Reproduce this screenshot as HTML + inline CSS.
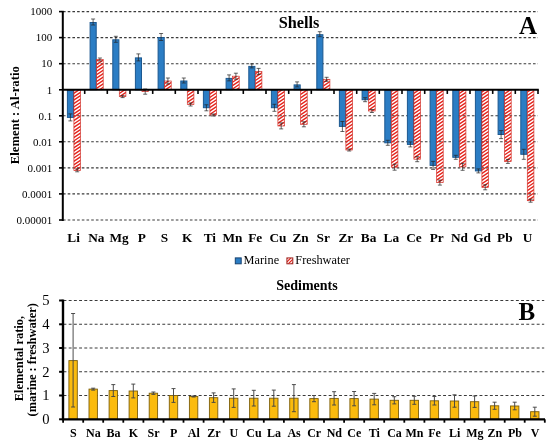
<!DOCTYPE html>
<html lang="en"><head><meta charset="utf-8"><title>Shells and Sediments element ratios</title>
<style>html,body{margin:0;padding:0;background:#fff}svg{display:block}text{font-family:"Liberation Serif","DejaVu Serif",serif;fill:#000}.b{font-weight:bold}</style></head><body>
<svg width="550" height="442" viewBox="0 0 550 442">
<rect width="550" height="442" fill="#fff"/>
<line x1="63.0" y1="11.6" x2="538.0" y2="11.6" stroke="#3a3a3a" stroke-width="1.1" stroke-dasharray="2.6 2.1"/>
<line x1="63.0" y1="37.6" x2="538.0" y2="37.6" stroke="#3a3a3a" stroke-width="1.1" stroke-dasharray="2.6 2.1"/>
<line x1="63.0" y1="63.7" x2="538.0" y2="63.7" stroke="#3a3a3a" stroke-width="1.1" stroke-dasharray="2.6 2.1"/>
<line x1="63.0" y1="115.8" x2="538.0" y2="115.8" stroke="#3a3a3a" stroke-width="1.1" stroke-dasharray="2.6 2.1"/>
<line x1="63.0" y1="141.8" x2="538.0" y2="141.8" stroke="#3a3a3a" stroke-width="1.1" stroke-dasharray="2.6 2.1"/>
<line x1="63.0" y1="167.9" x2="538.0" y2="167.9" stroke="#3a3a3a" stroke-width="1.1" stroke-dasharray="2.6 2.1"/>
<line x1="63.0" y1="193.9" x2="538.0" y2="193.9" stroke="#3a3a3a" stroke-width="1.1" stroke-dasharray="2.6 2.1"/>
<line x1="63.0" y1="220.0" x2="538.0" y2="220.0" stroke="#3a3a3a" stroke-width="1.1" stroke-dasharray="2.6 2.1"/>
<rect x="67.4" y="90.2" width="6.1" height="27.2" fill="#2b7dc4" stroke="#1c5890" stroke-width="1"/>
<rect x="90.1" y="22.5" width="6.1" height="67.2" fill="#2b7dc4" stroke="#1c5890" stroke-width="1"/>
<rect x="112.8" y="39.8" width="6.1" height="50.0" fill="#2b7dc4" stroke="#1c5890" stroke-width="1"/>
<rect x="135.4" y="57.9" width="6.1" height="31.9" fill="#2b7dc4" stroke="#1c5890" stroke-width="1"/>
<rect x="158.1" y="37.5" width="6.1" height="52.2" fill="#2b7dc4" stroke="#1c5890" stroke-width="1"/>
<rect x="180.8" y="81.0" width="6.1" height="8.8" fill="#2b7dc4" stroke="#1c5890" stroke-width="1"/>
<rect x="203.4" y="90.2" width="6.1" height="17.5" fill="#2b7dc4" stroke="#1c5890" stroke-width="1"/>
<rect x="226.1" y="78.4" width="6.1" height="11.3" fill="#2b7dc4" stroke="#1c5890" stroke-width="1"/>
<rect x="248.8" y="66.4" width="6.1" height="23.3" fill="#2b7dc4" stroke="#1c5890" stroke-width="1"/>
<rect x="271.4" y="90.2" width="6.1" height="17.5" fill="#2b7dc4" stroke="#1c5890" stroke-width="1"/>
<rect x="294.1" y="84.9" width="6.1" height="4.8" fill="#2b7dc4" stroke="#1c5890" stroke-width="1"/>
<rect x="316.8" y="34.7" width="6.1" height="55.0" fill="#2b7dc4" stroke="#1c5890" stroke-width="1"/>
<rect x="339.4" y="90.2" width="6.1" height="36.2" fill="#2b7dc4" stroke="#1c5890" stroke-width="1"/>
<rect x="362.1" y="90.2" width="6.1" height="9.5" fill="#2b7dc4" stroke="#1c5890" stroke-width="1"/>
<rect x="384.8" y="90.2" width="6.1" height="52.6" fill="#2b7dc4" stroke="#1c5890" stroke-width="1"/>
<rect x="407.4" y="90.2" width="6.1" height="54.2" fill="#2b7dc4" stroke="#1c5890" stroke-width="1"/>
<rect x="430.1" y="90.2" width="6.1" height="75.2" fill="#2b7dc4" stroke="#1c5890" stroke-width="1"/>
<rect x="452.8" y="90.2" width="6.1" height="67.1" fill="#2b7dc4" stroke="#1c5890" stroke-width="1"/>
<rect x="475.4" y="90.2" width="6.1" height="80.7" fill="#2b7dc4" stroke="#1c5890" stroke-width="1"/>
<rect x="498.1" y="90.2" width="6.1" height="44.3" fill="#2b7dc4" stroke="#1c5890" stroke-width="1"/>
<rect x="520.8" y="90.2" width="6.1" height="64.1" fill="#2b7dc4" stroke="#1c5890" stroke-width="1"/>
<clipPath id="rc"><rect x="73.9" y="89.8" width="6.6" height="80.6"/><rect x="96.6" y="59.5" width="6.6" height="30.2"/><rect x="119.3" y="89.8" width="6.6" height="6.8"/><rect x="141.9" y="89.8" width="6.6" height="1.8"/><rect x="164.6" y="81.0" width="6.6" height="8.8"/><rect x="187.3" y="89.8" width="6.6" height="14.8"/><rect x="209.9" y="89.8" width="6.6" height="25.2"/><rect x="232.6" y="76.2" width="6.6" height="13.5"/><rect x="255.3" y="71.4" width="6.6" height="18.3"/><rect x="277.9" y="89.8" width="6.6" height="36.2"/><rect x="300.6" y="89.8" width="6.6" height="34.5"/><rect x="323.3" y="79.3" width="6.6" height="10.5"/><rect x="345.9" y="89.8" width="6.6" height="60.2"/><rect x="368.6" y="89.8" width="6.6" height="21.2"/><rect x="391.3" y="89.8" width="6.6" height="77.4"/><rect x="413.9" y="89.8" width="6.6" height="69.4"/><rect x="436.6" y="89.8" width="6.6" height="92.8"/><rect x="459.3" y="89.8" width="6.6" height="77.1"/><rect x="481.9" y="89.8" width="6.6" height="97.6"/><rect x="504.6" y="89.8" width="6.6" height="71.7"/><rect x="527.3" y="89.8" width="6.6" height="110.9"/></clipPath>
<path clip-path="url(#rc)" d="M60.0 10.8L64.2 8.0M60.0 14.2L69.3 8.0M60.0 17.6L74.3 8.0M60.0 21.0L79.4 8.0M60.0 24.4L84.5 8.0M60.0 27.8L89.6 8.0M60.0 31.2L94.6 8.0M60.0 34.6L99.7 8.0M60.0 38.0L104.8 8.0M60.0 41.4L109.9 8.0M60.0 44.8L114.9 8.0M60.0 48.2L120.0 8.0M60.0 51.6L125.1 8.0M60.0 55.0L130.1 8.0M60.0 58.4L135.2 8.0M60.0 61.8L140.3 8.0M60.0 65.2L145.4 8.0M60.0 68.6L150.4 8.0M60.0 72.0L155.5 8.0M60.0 75.4L160.6 8.0M60.0 78.8L165.7 8.0M60.0 82.2L170.7 8.0M60.0 85.6L175.8 8.0M60.0 89.0L180.9 8.0M60.0 92.4L186.0 8.0M60.0 95.8L191.0 8.0M60.0 99.2L196.1 8.0M60.0 102.6L201.2 8.0M60.0 106.0L206.3 8.0M60.0 109.4L211.3 8.0M60.0 112.8L216.4 8.0M60.0 116.2L221.5 8.0M60.0 119.6L226.6 8.0M60.0 123.0L231.6 8.0M60.0 126.4L236.7 8.0M60.0 129.8L241.8 8.0M60.0 133.2L246.9 8.0M60.0 136.6L251.9 8.0M60.0 140.0L257.0 8.0M60.0 143.4L262.1 8.0M60.0 146.8L267.2 8.0M60.0 150.2L272.2 8.0M60.0 153.6L277.3 8.0M60.0 157.0L282.4 8.0M60.0 160.4L287.5 8.0M60.0 163.8L292.5 8.0M60.0 167.2L297.6 8.0M60.0 170.6L302.7 8.0M60.0 174.0L307.8 8.0M60.0 177.4L312.8 8.0M60.0 180.8L317.9 8.0M60.0 184.2L323.0 8.0M60.0 187.6L328.1 8.0M60.0 191.0L333.1 8.0M60.0 194.4L338.2 8.0M60.0 197.8L343.3 8.0M60.0 201.2L348.4 8.0M60.0 204.6L353.4 8.0M63.0 206.0L358.5 8.0M68.1 206.0L363.6 8.0M73.1 206.0L368.7 8.0M78.2 206.0L373.7 8.0M83.3 206.0L378.8 8.0M88.4 206.0L383.9 8.0M93.4 206.0L389.0 8.0M98.5 206.0L394.0 8.0M103.6 206.0L399.1 8.0M108.7 206.0L404.2 8.0M113.7 206.0L409.3 8.0M118.8 206.0L414.3 8.0M123.9 206.0L419.4 8.0M129.0 206.0L424.5 8.0M134.0 206.0L429.6 8.0M139.1 206.0L434.6 8.0M144.2 206.0L439.7 8.0M149.3 206.0L444.8 8.0M154.3 206.0L449.9 8.0M159.4 206.0L454.9 8.0M164.5 206.0L460.0 8.0M169.6 206.0L465.1 8.0M174.6 206.0L470.1 8.0M179.7 206.0L475.2 8.0M184.8 206.0L480.3 8.0M189.9 206.0L485.4 8.0M194.9 206.0L490.4 8.0M200.0 206.0L495.5 8.0M205.1 206.0L500.6 8.0M210.1 206.0L505.7 8.0M215.2 206.0L510.7 8.0M220.3 206.0L515.8 8.0M225.4 206.0L520.9 8.0M230.4 206.0L526.0 8.0M235.5 206.0L531.0 8.0M240.6 206.0L536.1 8.0M245.7 206.0L541.2 8.0M250.7 206.0L545.0 8.8M255.8 206.0L545.0 12.2M260.9 206.0L545.0 15.6M266.0 206.0L545.0 19.0M271.0 206.0L545.0 22.4M276.1 206.0L545.0 25.8M281.2 206.0L545.0 29.2M286.3 206.0L545.0 32.6M291.3 206.0L545.0 36.0M296.4 206.0L545.0 39.4M301.5 206.0L545.0 42.8M306.6 206.0L545.0 46.2M311.6 206.0L545.0 49.6M316.7 206.0L545.0 53.0M321.8 206.0L545.0 56.4M326.9 206.0L545.0 59.8M331.9 206.0L545.0 63.2M337.0 206.0L545.0 66.6M342.1 206.0L545.0 70.0M347.2 206.0L545.0 73.4M352.2 206.0L545.0 76.8M357.3 206.0L545.0 80.2M362.4 206.0L545.0 83.6M367.5 206.0L545.0 87.0M372.5 206.0L545.0 90.4M377.6 206.0L545.0 93.8M382.7 206.0L545.0 97.2M387.8 206.0L545.0 100.6M392.8 206.0L545.0 104.0M397.9 206.0L545.0 107.4M403.0 206.0L545.0 110.8M408.1 206.0L545.0 114.2M413.1 206.0L545.0 117.6M418.2 206.0L545.0 121.0M423.3 206.0L545.0 124.4M428.4 206.0L545.0 127.8M433.4 206.0L545.0 131.2M438.5 206.0L545.0 134.6M443.6 206.0L545.0 138.0M448.7 206.0L545.0 141.4M453.7 206.0L545.0 144.8M458.8 206.0L545.0 148.2M463.9 206.0L545.0 151.6M469.0 206.0L545.0 155.0M474.0 206.0L545.0 158.4M479.1 206.0L545.0 161.8M484.2 206.0L545.0 165.2M489.3 206.0L545.0 168.6M494.3 206.0L545.0 172.0M499.4 206.0L545.0 175.4M504.5 206.0L545.0 178.8M509.6 206.0L545.0 182.2M514.6 206.0L545.0 185.6M519.7 206.0L545.0 189.0M524.8 206.0L545.0 192.4M529.9 206.0L545.0 195.8M534.9 206.0L545.0 199.2M540.0 206.0L545.0 202.6" stroke="#e5251d" stroke-width="1.4" fill="none"/>
<rect x="73.9" y="89.8" width="6.6" height="80.6" fill="none" stroke="#d2352e" stroke-width="0.7"/>
<rect x="96.6" y="59.5" width="6.6" height="30.2" fill="none" stroke="#d2352e" stroke-width="0.7"/>
<rect x="119.3" y="89.8" width="6.6" height="6.8" fill="none" stroke="#d2352e" stroke-width="0.7"/>
<rect x="141.9" y="89.8" width="6.6" height="1.8" fill="none" stroke="#d2352e" stroke-width="0.7"/>
<rect x="164.6" y="81.0" width="6.6" height="8.8" fill="none" stroke="#d2352e" stroke-width="0.7"/>
<rect x="187.3" y="89.8" width="6.6" height="14.8" fill="none" stroke="#d2352e" stroke-width="0.7"/>
<rect x="209.9" y="89.8" width="6.6" height="25.2" fill="none" stroke="#d2352e" stroke-width="0.7"/>
<rect x="232.6" y="76.2" width="6.6" height="13.5" fill="none" stroke="#d2352e" stroke-width="0.7"/>
<rect x="255.3" y="71.4" width="6.6" height="18.3" fill="none" stroke="#d2352e" stroke-width="0.7"/>
<rect x="277.9" y="89.8" width="6.6" height="36.2" fill="none" stroke="#d2352e" stroke-width="0.7"/>
<rect x="300.6" y="89.8" width="6.6" height="34.5" fill="none" stroke="#d2352e" stroke-width="0.7"/>
<rect x="323.3" y="79.3" width="6.6" height="10.5" fill="none" stroke="#d2352e" stroke-width="0.7"/>
<rect x="345.9" y="89.8" width="6.6" height="60.2" fill="none" stroke="#d2352e" stroke-width="0.7"/>
<rect x="368.6" y="89.8" width="6.6" height="21.2" fill="none" stroke="#d2352e" stroke-width="0.7"/>
<rect x="391.3" y="89.8" width="6.6" height="77.4" fill="none" stroke="#d2352e" stroke-width="0.7"/>
<rect x="413.9" y="89.8" width="6.6" height="69.4" fill="none" stroke="#d2352e" stroke-width="0.7"/>
<rect x="436.6" y="89.8" width="6.6" height="92.8" fill="none" stroke="#d2352e" stroke-width="0.7"/>
<rect x="459.3" y="89.8" width="6.6" height="77.1" fill="none" stroke="#d2352e" stroke-width="0.7"/>
<rect x="481.9" y="89.8" width="6.6" height="97.6" fill="none" stroke="#d2352e" stroke-width="0.7"/>
<rect x="504.6" y="89.8" width="6.6" height="71.7" fill="none" stroke="#d2352e" stroke-width="0.7"/>
<rect x="527.3" y="89.8" width="6.6" height="110.9" fill="none" stroke="#d2352e" stroke-width="0.7"/>
<path d="M70.4 113.9V120.9M68.4 113.9h4M68.4 120.9h4" stroke="#222" stroke-width="0.7" fill="none"/>
<path d="M77.2 168.8V171.8M75.2 168.8h4M75.2 171.8h4" stroke="#222" stroke-width="0.7" fill="none"/>
<path d="M93.1 19.0V25.0M91.1 19.0h4M91.1 25.0h4" stroke="#222" stroke-width="0.7" fill="none"/>
<path d="M99.9 58.0V61.0M97.9 58.0h4M97.9 61.0h4" stroke="#222" stroke-width="0.7" fill="none"/>
<path d="M115.8 36.3V42.3M113.8 36.3h4M113.8 42.3h4" stroke="#222" stroke-width="0.7" fill="none"/>
<path d="M122.6 95.6V97.6M120.6 95.6h4M120.6 97.6h4" stroke="#222" stroke-width="0.7" fill="none"/>
<path d="M138.4 53.9V60.9M136.4 53.9h4M136.4 60.9h4" stroke="#222" stroke-width="0.7" fill="none"/>
<path d="M145.2 89.0V94.2M143.2 89.0h4M143.2 94.2h4" stroke="#222" stroke-width="0.7" fill="none"/>
<path d="M161.1 33.5V40.5M159.1 33.5h4M159.1 40.5h4" stroke="#222" stroke-width="0.7" fill="none"/>
<path d="M167.9 78.0V84.0M165.9 78.0h4M165.9 84.0h4" stroke="#222" stroke-width="0.7" fill="none"/>
<path d="M183.8 78.0V83.0M181.8 78.0h4M181.8 83.0h4" stroke="#222" stroke-width="0.7" fill="none"/>
<path d="M190.6 103.0V106.0M188.6 103.0h4M188.6 106.0h4" stroke="#222" stroke-width="0.7" fill="none"/>
<path d="M206.4 104.8V110.8M204.4 104.8h4M204.4 110.8h4" stroke="#222" stroke-width="0.7" fill="none"/>
<path d="M213.2 114.0V116.0M211.2 114.0h4M211.2 116.0h4" stroke="#222" stroke-width="0.7" fill="none"/>
<path d="M229.1 74.9V80.9M227.1 74.9h4M227.1 80.9h4" stroke="#222" stroke-width="0.7" fill="none"/>
<path d="M235.9 73.2V79.2M233.9 73.2h4M233.9 79.2h4" stroke="#222" stroke-width="0.7" fill="none"/>
<path d="M251.8 63.9V67.9M249.8 63.9h4M249.8 67.9h4" stroke="#222" stroke-width="0.7" fill="none"/>
<path d="M258.6 68.4V74.4M256.6 68.4h4M256.6 74.4h4" stroke="#222" stroke-width="0.7" fill="none"/>
<path d="M274.4 104.3V111.3M272.4 104.3h4M272.4 111.3h4" stroke="#222" stroke-width="0.7" fill="none"/>
<path d="M281.2 122.9V128.9M279.2 122.9h4M279.2 128.9h4" stroke="#222" stroke-width="0.7" fill="none"/>
<path d="M297.1 81.9V86.9M295.1 81.9h4M295.1 86.9h4" stroke="#222" stroke-width="0.7" fill="none"/>
<path d="M303.9 121.8V126.8M301.9 121.8h4M301.9 126.8h4" stroke="#222" stroke-width="0.7" fill="none"/>
<path d="M319.8 31.7V36.7M317.8 31.7h4M317.8 36.7h4" stroke="#222" stroke-width="0.7" fill="none"/>
<path d="M326.6 77.3V81.3M324.6 77.3h4M324.6 81.3h4" stroke="#222" stroke-width="0.7" fill="none"/>
<path d="M342.4 121.5V131.5M340.4 121.5h4M340.4 131.5h4" stroke="#222" stroke-width="0.7" fill="none"/>
<path d="M349.2 149.0V151.0M347.2 149.0h4M347.2 151.0h4" stroke="#222" stroke-width="0.7" fill="none"/>
<path d="M365.1 97.7V101.7M363.1 97.7h4M363.1 101.7h4" stroke="#222" stroke-width="0.7" fill="none"/>
<path d="M371.9 109.5V112.5M369.9 109.5h4M369.9 112.5h4" stroke="#222" stroke-width="0.7" fill="none"/>
<path d="M387.8 140.3V145.3M385.8 140.3h4M385.8 145.3h4" stroke="#222" stroke-width="0.7" fill="none"/>
<path d="M394.6 164.2V170.2M392.6 164.2h4M392.6 170.2h4" stroke="#222" stroke-width="0.7" fill="none"/>
<path d="M410.4 141.9V146.9M408.4 141.9h4M408.4 146.9h4" stroke="#222" stroke-width="0.7" fill="none"/>
<path d="M417.2 156.7V161.7M415.2 156.7h4M415.2 161.7h4" stroke="#222" stroke-width="0.7" fill="none"/>
<path d="M433.1 161.4V169.4M431.1 161.4h4M431.1 169.4h4" stroke="#222" stroke-width="0.7" fill="none"/>
<path d="M439.9 180.1V185.1M437.9 180.1h4M437.9 185.1h4" stroke="#222" stroke-width="0.7" fill="none"/>
<path d="M455.8 155.3V159.3M453.8 155.3h4M453.8 159.3h4" stroke="#222" stroke-width="0.7" fill="none"/>
<path d="M462.6 163.3V170.3M460.6 163.3h4M460.6 170.3h4" stroke="#222" stroke-width="0.7" fill="none"/>
<path d="M478.4 168.9V172.9M476.4 168.9h4M476.4 172.9h4" stroke="#222" stroke-width="0.7" fill="none"/>
<path d="M485.2 184.8V189.8M483.2 184.8h4M483.2 189.8h4" stroke="#222" stroke-width="0.7" fill="none"/>
<path d="M501.1 130.6V138.6M499.1 130.6h4M499.1 138.6h4" stroke="#222" stroke-width="0.7" fill="none"/>
<path d="M507.9 159.4V163.4M505.9 159.4h4M505.9 163.4h4" stroke="#222" stroke-width="0.7" fill="none"/>
<path d="M523.8 149.3V159.3M521.8 149.3h4M521.8 159.3h4" stroke="#222" stroke-width="0.7" fill="none"/>
<path d="M530.6 199.2V202.2M528.6 199.2h4M528.6 202.2h4" stroke="#222" stroke-width="0.7" fill="none"/>
<line x1="62.8" y1="10.8" x2="62.8" y2="221.0" stroke="#000" stroke-width="2"/>
<line x1="62.0" y1="89.75" x2="538.8" y2="89.75" stroke="#000" stroke-width="2"/>
<line x1="59.0" y1="11.6" x2="62.0" y2="11.6" stroke="#000" stroke-width="1.6"/>
<line x1="59.0" y1="37.6" x2="62.0" y2="37.6" stroke="#000" stroke-width="1.6"/>
<line x1="59.0" y1="63.7" x2="62.0" y2="63.7" stroke="#000" stroke-width="1.6"/>
<line x1="59.0" y1="89.8" x2="62.0" y2="89.8" stroke="#000" stroke-width="1.6"/>
<line x1="59.0" y1="115.8" x2="62.0" y2="115.8" stroke="#000" stroke-width="1.6"/>
<line x1="59.0" y1="141.8" x2="62.0" y2="141.8" stroke="#000" stroke-width="1.6"/>
<line x1="59.0" y1="167.9" x2="62.0" y2="167.9" stroke="#000" stroke-width="1.6"/>
<line x1="59.0" y1="193.9" x2="62.0" y2="193.9" stroke="#000" stroke-width="1.6"/>
<line x1="59.0" y1="220.0" x2="62.0" y2="220.0" stroke="#000" stroke-width="1.6"/>
<line x1="84.7" y1="89.75" x2="84.7" y2="93.95" stroke="#000" stroke-width="1.6"/>
<line x1="107.3" y1="89.75" x2="107.3" y2="93.95" stroke="#000" stroke-width="1.6"/>
<line x1="130.0" y1="89.75" x2="130.0" y2="93.95" stroke="#000" stroke-width="1.6"/>
<line x1="152.7" y1="89.75" x2="152.7" y2="93.95" stroke="#000" stroke-width="1.6"/>
<line x1="175.3" y1="89.75" x2="175.3" y2="93.95" stroke="#000" stroke-width="1.6"/>
<line x1="198.0" y1="89.75" x2="198.0" y2="93.95" stroke="#000" stroke-width="1.6"/>
<line x1="220.7" y1="89.75" x2="220.7" y2="93.95" stroke="#000" stroke-width="1.6"/>
<line x1="243.3" y1="89.75" x2="243.3" y2="93.95" stroke="#000" stroke-width="1.6"/>
<line x1="266.0" y1="89.75" x2="266.0" y2="93.95" stroke="#000" stroke-width="1.6"/>
<line x1="288.7" y1="89.75" x2="288.7" y2="93.95" stroke="#000" stroke-width="1.6"/>
<line x1="311.3" y1="89.75" x2="311.3" y2="93.95" stroke="#000" stroke-width="1.6"/>
<line x1="334.0" y1="89.75" x2="334.0" y2="93.95" stroke="#000" stroke-width="1.6"/>
<line x1="356.7" y1="89.75" x2="356.7" y2="93.95" stroke="#000" stroke-width="1.6"/>
<line x1="379.3" y1="89.75" x2="379.3" y2="93.95" stroke="#000" stroke-width="1.6"/>
<line x1="402.0" y1="89.75" x2="402.0" y2="93.95" stroke="#000" stroke-width="1.6"/>
<line x1="424.7" y1="89.75" x2="424.7" y2="93.95" stroke="#000" stroke-width="1.6"/>
<line x1="447.3" y1="89.75" x2="447.3" y2="93.95" stroke="#000" stroke-width="1.6"/>
<line x1="470.0" y1="89.75" x2="470.0" y2="93.95" stroke="#000" stroke-width="1.6"/>
<line x1="492.7" y1="89.75" x2="492.7" y2="93.95" stroke="#000" stroke-width="1.6"/>
<line x1="515.3" y1="89.75" x2="515.3" y2="93.95" stroke="#000" stroke-width="1.6"/>
<line x1="538.0" y1="89.75" x2="538.0" y2="93.95" stroke="#000" stroke-width="1.6"/>
<text x="52.3" y="15.3" font-size="11" text-anchor="end">1000</text>
<text x="52.3" y="41.3" font-size="11" text-anchor="end">100</text>
<text x="52.3" y="67.4" font-size="11" text-anchor="end">10</text>
<text x="52.3" y="93.5" font-size="11" text-anchor="end">1</text>
<text x="52.3" y="119.5" font-size="11" text-anchor="end">0.1</text>
<text x="52.3" y="145.5" font-size="11" text-anchor="end">0.01</text>
<text x="52.3" y="171.6" font-size="11" text-anchor="end">0.001</text>
<text x="52.3" y="197.6" font-size="11" text-anchor="end">0.0001</text>
<text x="52.3" y="223.7" font-size="11" text-anchor="end">0.00001</text>
<text class="b" x="73.6" y="241.5" font-size="13.3" text-anchor="middle">Li</text>
<text class="b" x="96.3" y="241.5" font-size="13.3" text-anchor="middle">Na</text>
<text class="b" x="119.0" y="241.5" font-size="13.3" text-anchor="middle">Mg</text>
<text class="b" x="141.7" y="241.5" font-size="13.3" text-anchor="middle">P</text>
<text class="b" x="164.4" y="241.5" font-size="13.3" text-anchor="middle">S</text>
<text class="b" x="187.1" y="241.5" font-size="13.3" text-anchor="middle">K</text>
<text class="b" x="209.8" y="241.5" font-size="13.3" text-anchor="middle">Ti</text>
<text class="b" x="232.5" y="241.5" font-size="13.3" text-anchor="middle">Mn</text>
<text class="b" x="255.2" y="241.5" font-size="13.3" text-anchor="middle">Fe</text>
<text class="b" x="277.9" y="241.5" font-size="13.3" text-anchor="middle">Cu</text>
<text class="b" x="300.6" y="241.5" font-size="13.3" text-anchor="middle">Zn</text>
<text class="b" x="323.2" y="241.5" font-size="13.3" text-anchor="middle">Sr</text>
<text class="b" x="345.9" y="241.5" font-size="13.3" text-anchor="middle">Zr</text>
<text class="b" x="368.6" y="241.5" font-size="13.3" text-anchor="middle">Ba</text>
<text class="b" x="391.3" y="241.5" font-size="13.3" text-anchor="middle">La</text>
<text class="b" x="414.0" y="241.5" font-size="13.3" text-anchor="middle">Ce</text>
<text class="b" x="436.7" y="241.5" font-size="13.3" text-anchor="middle">Pr</text>
<text class="b" x="459.4" y="241.5" font-size="13.3" text-anchor="middle">Nd</text>
<text class="b" x="482.1" y="241.5" font-size="13.3" text-anchor="middle">Gd</text>
<text class="b" x="504.8" y="241.5" font-size="13.3" text-anchor="middle">Pb</text>
<text class="b" x="527.5" y="241.5" font-size="13.3" text-anchor="middle">U</text>
<text class="b" x="299.1" y="27.7" font-size="16.3" text-anchor="middle">Shells</text>
<text class="b" x="528" y="34.4" font-size="25" text-anchor="middle">A</text>
<text class="b" transform="translate(18.5 115.2) rotate(-90)" font-size="12.7" text-anchor="middle">Element : Al-ratio</text>
<rect x="235.3" y="257.9" width="5.9" height="5.9" fill="#2b7dc4" stroke="#174270" stroke-width="1"/>
<text x="243.6" y="264.3" font-size="12.3">Marine</text>
<clipPath id="lc"><rect x="286.9" y="257.9" width="5.9" height="5.9"/></clipPath>
<rect x="286.9" y="257.9" width="5.9" height="5.9" fill="#fff"/>
<path clip-path="url(#lc)" d="M284 261.5l8-8M284 264.8l11-11M286 266.1l9-9M289 266.4l6-6" stroke="#e5251d" stroke-width="1.2" fill="none"/>
<rect x="286.9" y="257.9" width="5.9" height="5.9" fill="none" stroke="#a02a25" stroke-width="1"/>
<text x="295.3" y="264.3" font-size="12.3">Freshwater</text>
<text class="b" x="307" y="289.8" font-size="14" text-anchor="middle">Sediments</text>
<line x1="63.5" y1="395.5" x2="544.2" y2="395.5" stroke="#3a3a3a" stroke-width="1.1" stroke-dasharray="2.9 2.3"/>
<line x1="63.5" y1="371.8" x2="544.2" y2="371.8" stroke="#3a3a3a" stroke-width="1.1" stroke-dasharray="2.9 2.3"/>
<line x1="63.5" y1="348.0" x2="544.2" y2="348.0" stroke="#3a3a3a" stroke-width="1.1" stroke-dasharray="2.9 2.3"/>
<line x1="63.5" y1="324.3" x2="544.2" y2="324.3" stroke="#3a3a3a" stroke-width="1.1" stroke-dasharray="2.9 2.3"/>
<line x1="63.5" y1="300.5" x2="544.2" y2="300.5" stroke="#3a3a3a" stroke-width="1.1" stroke-dasharray="2.9 2.3"/>
<rect x="68.9" y="360.6" width="8.4" height="58.7" fill="#fbbb0e" stroke="#7d5f0a" stroke-width="0.9"/>
<path d="M73.1 313.5V407.0M71.1 313.5h4M71.1 407.0h4" stroke="#444" stroke-width="0.95" fill="none"/>
<rect x="89.0" y="389.1" width="8.4" height="30.2" fill="#fbbb0e" stroke="#7d5f0a" stroke-width="0.9"/>
<path d="M93.2 388.2V390.1M91.2 388.2h4M91.2 390.1h4" stroke="#444" stroke-width="0.95" fill="none"/>
<rect x="109.1" y="390.6" width="8.4" height="28.7" fill="#fbbb0e" stroke="#7d5f0a" stroke-width="0.9"/>
<path d="M113.3 384.6V396.5M111.3 384.6h4M111.3 396.5h4" stroke="#444" stroke-width="0.95" fill="none"/>
<rect x="129.1" y="391.0" width="8.4" height="28.3" fill="#fbbb0e" stroke="#7d5f0a" stroke-width="0.9"/>
<path d="M133.3 384.1V397.9M131.3 384.1h4M131.3 397.9h4" stroke="#444" stroke-width="0.95" fill="none"/>
<rect x="149.2" y="393.2" width="8.4" height="26.1" fill="#fbbb0e" stroke="#7d5f0a" stroke-width="0.9"/>
<path d="M153.4 392.0V394.4M151.4 392.0h4M151.4 394.4h4" stroke="#444" stroke-width="0.95" fill="none"/>
<rect x="169.3" y="395.5" width="8.4" height="23.8" fill="#fbbb0e" stroke="#7d5f0a" stroke-width="0.9"/>
<path d="M173.5 388.6V402.4M171.5 388.6h4M171.5 402.4h4" stroke="#444" stroke-width="0.95" fill="none"/>
<rect x="189.4" y="396.5" width="8.4" height="22.8" fill="#fbbb0e" stroke="#7d5f0a" stroke-width="0.9"/>
<path d="M193.6 396.0V397.0M191.6 396.0h4M191.6 397.0h4" stroke="#444" stroke-width="0.95" fill="none"/>
<rect x="209.4" y="397.7" width="8.4" height="21.6" fill="#fbbb0e" stroke="#7d5f0a" stroke-width="0.9"/>
<path d="M213.6 392.9V402.4M211.6 392.9h4M211.6 402.4h4" stroke="#444" stroke-width="0.95" fill="none"/>
<rect x="229.5" y="398.2" width="8.4" height="21.1" fill="#fbbb0e" stroke="#7d5f0a" stroke-width="0.9"/>
<path d="M233.7 388.9V407.4M231.7 388.9h4M231.7 407.4h4" stroke="#444" stroke-width="0.95" fill="none"/>
<rect x="249.6" y="398.2" width="8.4" height="21.1" fill="#fbbb0e" stroke="#7d5f0a" stroke-width="0.9"/>
<path d="M253.8 390.3V406.0M251.8 390.3h4M251.8 406.0h4" stroke="#444" stroke-width="0.95" fill="none"/>
<rect x="269.6" y="398.2" width="8.4" height="21.1" fill="#fbbb0e" stroke="#7d5f0a" stroke-width="0.9"/>
<path d="M273.8 390.1V406.2M271.8 390.1h4M271.8 406.2h4" stroke="#444" stroke-width="0.95" fill="none"/>
<rect x="289.7" y="398.2" width="8.4" height="21.1" fill="#fbbb0e" stroke="#7d5f0a" stroke-width="0.9"/>
<path d="M293.9 384.6V411.7M291.9 384.6h4M291.9 411.7h4" stroke="#444" stroke-width="0.95" fill="none"/>
<rect x="309.8" y="398.6" width="8.4" height="20.7" fill="#fbbb0e" stroke="#7d5f0a" stroke-width="0.9"/>
<path d="M314.0 395.5V401.7M312.0 395.5h4M312.0 401.7h4" stroke="#444" stroke-width="0.95" fill="none"/>
<rect x="329.9" y="398.4" width="8.4" height="20.9" fill="#fbbb0e" stroke="#7d5f0a" stroke-width="0.9"/>
<path d="M334.1 391.7V405.0M332.1 391.7h4M332.1 405.0h4" stroke="#444" stroke-width="0.95" fill="none"/>
<rect x="349.9" y="398.6" width="8.4" height="20.7" fill="#fbbb0e" stroke="#7d5f0a" stroke-width="0.9"/>
<path d="M354.1 391.5V405.8M352.1 391.5h4M352.1 405.8h4" stroke="#444" stroke-width="0.95" fill="none"/>
<rect x="370.0" y="399.1" width="8.4" height="20.2" fill="#fbbb0e" stroke="#7d5f0a" stroke-width="0.9"/>
<path d="M374.2 393.4V404.8M372.2 393.4h4M372.2 404.8h4" stroke="#444" stroke-width="0.95" fill="none"/>
<rect x="390.1" y="400.3" width="8.4" height="19.0" fill="#fbbb0e" stroke="#7d5f0a" stroke-width="0.9"/>
<path d="M394.3 396.7V403.9M392.3 396.7h4M392.3 403.9h4" stroke="#444" stroke-width="0.95" fill="none"/>
<rect x="410.1" y="400.3" width="8.4" height="19.0" fill="#fbbb0e" stroke="#7d5f0a" stroke-width="0.9"/>
<path d="M414.3 396.3V404.3M412.3 396.3h4M412.3 404.3h4" stroke="#444" stroke-width="0.95" fill="none"/>
<rect x="430.2" y="400.8" width="8.4" height="18.5" fill="#fbbb0e" stroke="#7d5f0a" stroke-width="0.9"/>
<path d="M434.4 396.5V405.0M432.4 396.5h4M432.4 405.0h4" stroke="#444" stroke-width="0.95" fill="none"/>
<rect x="450.3" y="401.0" width="8.4" height="18.3" fill="#fbbb0e" stroke="#7d5f0a" stroke-width="0.9"/>
<path d="M454.5 394.8V407.2M452.5 394.8h4M452.5 407.2h4" stroke="#444" stroke-width="0.95" fill="none"/>
<rect x="470.4" y="401.7" width="8.4" height="17.6" fill="#fbbb0e" stroke="#7d5f0a" stroke-width="0.9"/>
<path d="M474.6 396.0V407.4M472.6 396.0h4M472.6 407.4h4" stroke="#444" stroke-width="0.95" fill="none"/>
<rect x="490.4" y="405.8" width="8.4" height="13.5" fill="#fbbb0e" stroke="#7d5f0a" stroke-width="0.9"/>
<path d="M494.6 402.2V409.3M492.6 402.2h4M492.6 409.3h4" stroke="#444" stroke-width="0.95" fill="none"/>
<rect x="510.5" y="406.0" width="8.4" height="13.3" fill="#fbbb0e" stroke="#7d5f0a" stroke-width="0.9"/>
<path d="M514.7 402.2V409.8M512.7 402.2h4M512.7 409.8h4" stroke="#444" stroke-width="0.95" fill="none"/>
<rect x="530.6" y="411.7" width="8.4" height="7.6" fill="#fbbb0e" stroke="#7d5f0a" stroke-width="0.9"/>
<path d="M534.8 407.2V416.2M532.8 407.2h4M532.8 416.2h4" stroke="#444" stroke-width="0.95" fill="none"/>
<line x1="63.0" y1="299.5" x2="63.0" y2="420.3" stroke="#000" stroke-width="2.4"/>
<line x1="62.5" y1="419.3" x2="545.0" y2="419.3" stroke="#000" stroke-width="2.2"/>
<line x1="59.1" y1="419.3" x2="62.5" y2="419.3" stroke="#000" stroke-width="2"/>
<text x="49.6" y="424.2" font-size="14.6" text-anchor="end">0</text>
<line x1="59.1" y1="395.5" x2="62.5" y2="395.5" stroke="#000" stroke-width="2"/>
<text x="49.6" y="400.4" font-size="14.6" text-anchor="end">1</text>
<line x1="59.1" y1="371.8" x2="62.5" y2="371.8" stroke="#000" stroke-width="2"/>
<text x="49.6" y="376.7" font-size="14.6" text-anchor="end">2</text>
<line x1="59.1" y1="348.0" x2="62.5" y2="348.0" stroke="#000" stroke-width="2"/>
<text x="49.6" y="352.9" font-size="14.6" text-anchor="end">3</text>
<line x1="59.1" y1="324.3" x2="62.5" y2="324.3" stroke="#000" stroke-width="2"/>
<text x="49.6" y="329.2" font-size="14.6" text-anchor="end">4</text>
<line x1="59.1" y1="300.5" x2="62.5" y2="300.5" stroke="#000" stroke-width="2"/>
<text x="49.6" y="305.4" font-size="14.6" text-anchor="end">5</text>
<line x1="63.1" y1="419.3" x2="63.1" y2="422.7" stroke="#000" stroke-width="1.8"/>
<line x1="83.2" y1="419.3" x2="83.2" y2="422.7" stroke="#000" stroke-width="1.8"/>
<line x1="103.2" y1="419.3" x2="103.2" y2="422.7" stroke="#000" stroke-width="1.8"/>
<line x1="123.3" y1="419.3" x2="123.3" y2="422.7" stroke="#000" stroke-width="1.8"/>
<line x1="143.4" y1="419.3" x2="143.4" y2="422.7" stroke="#000" stroke-width="1.8"/>
<line x1="163.5" y1="419.3" x2="163.5" y2="422.7" stroke="#000" stroke-width="1.8"/>
<line x1="183.5" y1="419.3" x2="183.5" y2="422.7" stroke="#000" stroke-width="1.8"/>
<line x1="203.6" y1="419.3" x2="203.6" y2="422.7" stroke="#000" stroke-width="1.8"/>
<line x1="223.7" y1="419.3" x2="223.7" y2="422.7" stroke="#000" stroke-width="1.8"/>
<line x1="243.7" y1="419.3" x2="243.7" y2="422.7" stroke="#000" stroke-width="1.8"/>
<line x1="263.8" y1="419.3" x2="263.8" y2="422.7" stroke="#000" stroke-width="1.8"/>
<line x1="283.9" y1="419.3" x2="283.9" y2="422.7" stroke="#000" stroke-width="1.8"/>
<line x1="304.0" y1="419.3" x2="304.0" y2="422.7" stroke="#000" stroke-width="1.8"/>
<line x1="324.0" y1="419.3" x2="324.0" y2="422.7" stroke="#000" stroke-width="1.8"/>
<line x1="344.1" y1="419.3" x2="344.1" y2="422.7" stroke="#000" stroke-width="1.8"/>
<line x1="364.2" y1="419.3" x2="364.2" y2="422.7" stroke="#000" stroke-width="1.8"/>
<line x1="384.2" y1="419.3" x2="384.2" y2="422.7" stroke="#000" stroke-width="1.8"/>
<line x1="404.3" y1="419.3" x2="404.3" y2="422.7" stroke="#000" stroke-width="1.8"/>
<line x1="424.4" y1="419.3" x2="424.4" y2="422.7" stroke="#000" stroke-width="1.8"/>
<line x1="444.4" y1="419.3" x2="444.4" y2="422.7" stroke="#000" stroke-width="1.8"/>
<line x1="464.5" y1="419.3" x2="464.5" y2="422.7" stroke="#000" stroke-width="1.8"/>
<line x1="484.6" y1="419.3" x2="484.6" y2="422.7" stroke="#000" stroke-width="1.8"/>
<line x1="504.7" y1="419.3" x2="504.7" y2="422.7" stroke="#000" stroke-width="1.8"/>
<line x1="524.7" y1="419.3" x2="524.7" y2="422.7" stroke="#000" stroke-width="1.8"/>
<line x1="544.8" y1="419.3" x2="544.8" y2="422.7" stroke="#000" stroke-width="1.8"/>
<text class="b" x="73.3" y="437.4" font-size="12" text-anchor="middle">S</text>
<text class="b" x="93.4" y="437.4" font-size="12" text-anchor="middle">Na</text>
<text class="b" x="113.5" y="437.4" font-size="12" text-anchor="middle">Ba</text>
<text class="b" x="133.5" y="437.4" font-size="12" text-anchor="middle">K</text>
<text class="b" x="153.6" y="437.4" font-size="12" text-anchor="middle">Sr</text>
<text class="b" x="173.7" y="437.4" font-size="12" text-anchor="middle">P</text>
<text class="b" x="193.8" y="437.4" font-size="12" text-anchor="middle">Al</text>
<text class="b" x="213.8" y="437.4" font-size="12" text-anchor="middle">Zr</text>
<text class="b" x="233.9" y="437.4" font-size="12" text-anchor="middle">U</text>
<text class="b" x="254.0" y="437.4" font-size="12" text-anchor="middle">Cu</text>
<text class="b" x="274.0" y="437.4" font-size="12" text-anchor="middle">La</text>
<text class="b" x="294.1" y="437.4" font-size="12" text-anchor="middle">As</text>
<text class="b" x="314.2" y="437.4" font-size="12" text-anchor="middle">Cr</text>
<text class="b" x="334.3" y="437.4" font-size="12" text-anchor="middle">Nd</text>
<text class="b" x="354.3" y="437.4" font-size="12" text-anchor="middle">Ce</text>
<text class="b" x="374.4" y="437.4" font-size="12" text-anchor="middle">Ti</text>
<text class="b" x="394.5" y="437.4" font-size="12" text-anchor="middle">Ca</text>
<text class="b" x="414.5" y="437.4" font-size="12" text-anchor="middle">Mn</text>
<text class="b" x="434.6" y="437.4" font-size="12" text-anchor="middle">Fe</text>
<text class="b" x="454.7" y="437.4" font-size="12" text-anchor="middle">Li</text>
<text class="b" x="474.8" y="437.4" font-size="12" text-anchor="middle">Mg</text>
<text class="b" x="494.8" y="437.4" font-size="12" text-anchor="middle">Zn</text>
<text class="b" x="514.9" y="437.4" font-size="12" text-anchor="middle">Pb</text>
<text class="b" x="535.0" y="437.4" font-size="12" text-anchor="middle">V</text>
<text class="b" x="526.8" y="320.3" font-size="25" text-anchor="middle">B</text>
<text class="b" transform="translate(22.5 358.6) rotate(-90)" font-size="12.4" text-anchor="middle">Elemental ratio,</text>
<text class="b" transform="translate(35.7 359.8) rotate(-90)" font-size="12.4" text-anchor="middle">(marine : freshwater)</text>
</svg></body></html>
